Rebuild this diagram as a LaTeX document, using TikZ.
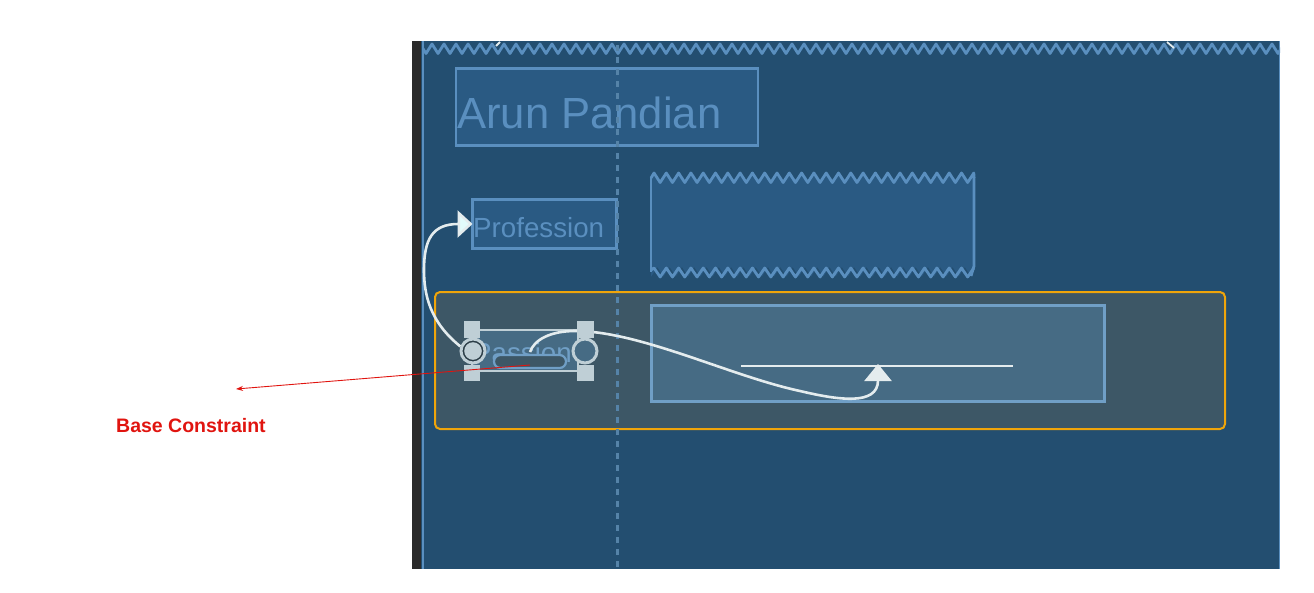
\documentclass[tikz,border=0pt]{standalone}
\usepackage{fontspec}
\setmainfont{Liberation Sans}
\usetikzlibrary{arrows.meta}
\definecolor{canvas}{HTML}{234E70}
\definecolor{barc}{HTML}{2B2B2B}
\definecolor{edgeb}{HTML}{5A8FBF}
\definecolor{viewf}{HTML}{2A5A83}
\definecolor{selband}{HTML}{3D5766}
\definecolor{selview}{HTML}{466B84}
\definecolor{seledge}{HTML}{709FC6}
\definecolor{handle}{HTML}{BFCFD6}
\definecolor{amber}{HTML}{F0A50A}
\definecolor{curvec}{HTML}{E4ECEE}
\definecolor{redc}{HTML}{E0140F}
\tikzset{
  x=1pt,y=-1pt,
  viewbox/.style={draw=edgeb,fill=viewf,line width=2.6pt,inner sep=0pt,outer sep=0pt,rectangle},
  viewtext/.style={text=edgeb,inner sep=0pt,anchor=base west},
  sq/.style={fill=handle,minimum size=16.5pt,inner sep=0pt,rectangle},
  ring/.style={circle,draw=handle,line width=3pt,minimum size=24pt,inner sep=0pt},
  conn/.style={draw=curvec,line width=2.6pt},
  zig/.style={draw=edgeb,line width=2.8pt,line join=round},
}
\begin{document}
\begin{tikzpicture}
\useasboundingbox (0,0) rectangle (1314,592);
% canvas
\fill[canvas] (412,41) rectangle (1280,569);
\fill[barc] (412,41) rectangle (421,569);
\fill[edgeb] (421.5,41) rectangle (424,569);
\fill[edgeb] (1279,41) rectangle (1280,569);
% top zigzag
\begin{scope}
\clip (424,41) rectangle (1280,60);
\draw[zig] (420,44) foreach \i in {0,...,72} { -- ++(6,9.5) -- ++(6,-9.5) };
\end{scope}
\draw[curvec,line width=1.8pt] (500,42) -- (496,46);
\draw[curvec,line width=1.8pt] (1167,42) -- (1174,48);
% Arun Pandian box
\node[viewbox,minimum width=302pt,minimum height=77pt,anchor=north west] (arun) at (456,68.5) {};
\node[viewtext,font=\fontsize{43.6}{44}\selectfont] (aruntext) at (457,128) {Arun Pandian};
% Profession box
\node[viewbox,minimum width=144pt,minimum height=49pt,anchor=north west] (prof) at (472.5,199.5) {};
\node[viewtext,font=\fontsize{27.7}{28}\selectfont] (proftext) at (473,237) {Profession};
% zigzag box
\fill[viewf] (651,178) -- (654,173) foreach \i in {0,...,25} { -- ++(6.15,9.5) -- ++(6.15,-9.5) } -- (974,270) -- (971,276.5) foreach \i in {0,...,25} { -- ++(-6.15,-9.5) -- ++(-6.15,9.5) } -- (651,270) -- cycle;
\draw[zig] (651,178) -- (654,173) foreach \i in {0,...,25} { -- ++(6.15,9.5) -- ++(6.15,-9.5) } -- (974,178);
\draw[zig] (651,270) -- (654,268) foreach \i in {0,...,25} { -- ++(6.15,9) -- ++(6.15,-9) };
\draw[zig] (651,177) -- (651,272);
\draw[zig] (974,177) -- (974,266) -- (971,276);
% selected band
\node[draw=amber,fill=selband,line width=2pt,rounded corners=5pt,minimum width=790pt,minimum height=137pt,anchor=north west,inner sep=0pt,outer sep=0pt] (band) at (435,292) {};
% dashed guide
\draw[draw=seledge!65!canvas,line width=2.5pt,dash pattern=on 6pt off 6pt] (617.5,45) -- (617.5,569);
% wide view in band
\node[draw=seledge,fill=selview,line width=2.6pt,minimum width=453pt,minimum height=96pt,anchor=north west,inner sep=0pt,outer sep=0pt] (wide) at (651.5,305.5) {};
\draw[curvec,line width=2.6pt] (741,366) -- (1013,366);
\coordinate (basetop) at (878,364);
% Passion view
\node[draw=handle,fill=selview,line width=2.8pt,minimum width=106pt,minimum height=41pt,anchor=north west,inner sep=0pt,outer sep=0pt] (passion) at (472,330) {};
\node[viewtext,text=seledge,font=\fontsize{27.7}{28}\selectfont] (passtext) at (473,362) {Passion};
\node[draw=seledge,fill=selband,line width=2.2pt,rounded corners=6.5pt,minimum width=72pt,minimum height=13pt,anchor=north west,inner sep=0pt,outer sep=0pt] (pill) at (494,355) {};
% handles
\node[sq] (h1) at (472,329.5) {};
\node[sq] (h2) at (585.5,329.5) {};
\node[sq] (h3) at (472,373) {};
\node[sq] (h4) at (585.5,373) {};
\node[ring,fill=selview] (cr) at (585,351) {};
\node[ring,fill=selband!70!black] (cl) at (473,351) {};
\fill[handle] (cl) circle (8.8pt);
% connectors
\draw[conn,-{Triangle[length=15pt,width=27pt,fill=curvec!70!cyan!30!white]}]
  (cl.160) .. controls (430,322) and (424,295) .. (424,270)
  .. controls (424,240) and (432,224) .. (prof.west);
\draw[conn,-{Triangle[length=17pt,width=27pt,fill=curvec]}]
  (pill.north) ++(0,-3) coordinate (pstart) .. controls (534,340) and (550,331) .. (575,331)
  .. controls (640,331) and (730,376) .. (800,391)
  .. controls (838,400) and (878,406) .. (basetop);
\node[sq] at (h2) {};
% red arrow
\coordinate (redstart) at (530,365);
\coordinate (redend) at (236,389);
\draw[redc,line width=0.9pt,-{Stealth[length=7pt,width=5pt]}] (redstart) -- (redend);
\node[text=redc,font=\bfseries\fontsize{19.5}{21}\selectfont,inner sep=0pt,anchor=base west] (baselabel) at (116,432) {Base Constraint};
\end{tikzpicture}
\end{document}
